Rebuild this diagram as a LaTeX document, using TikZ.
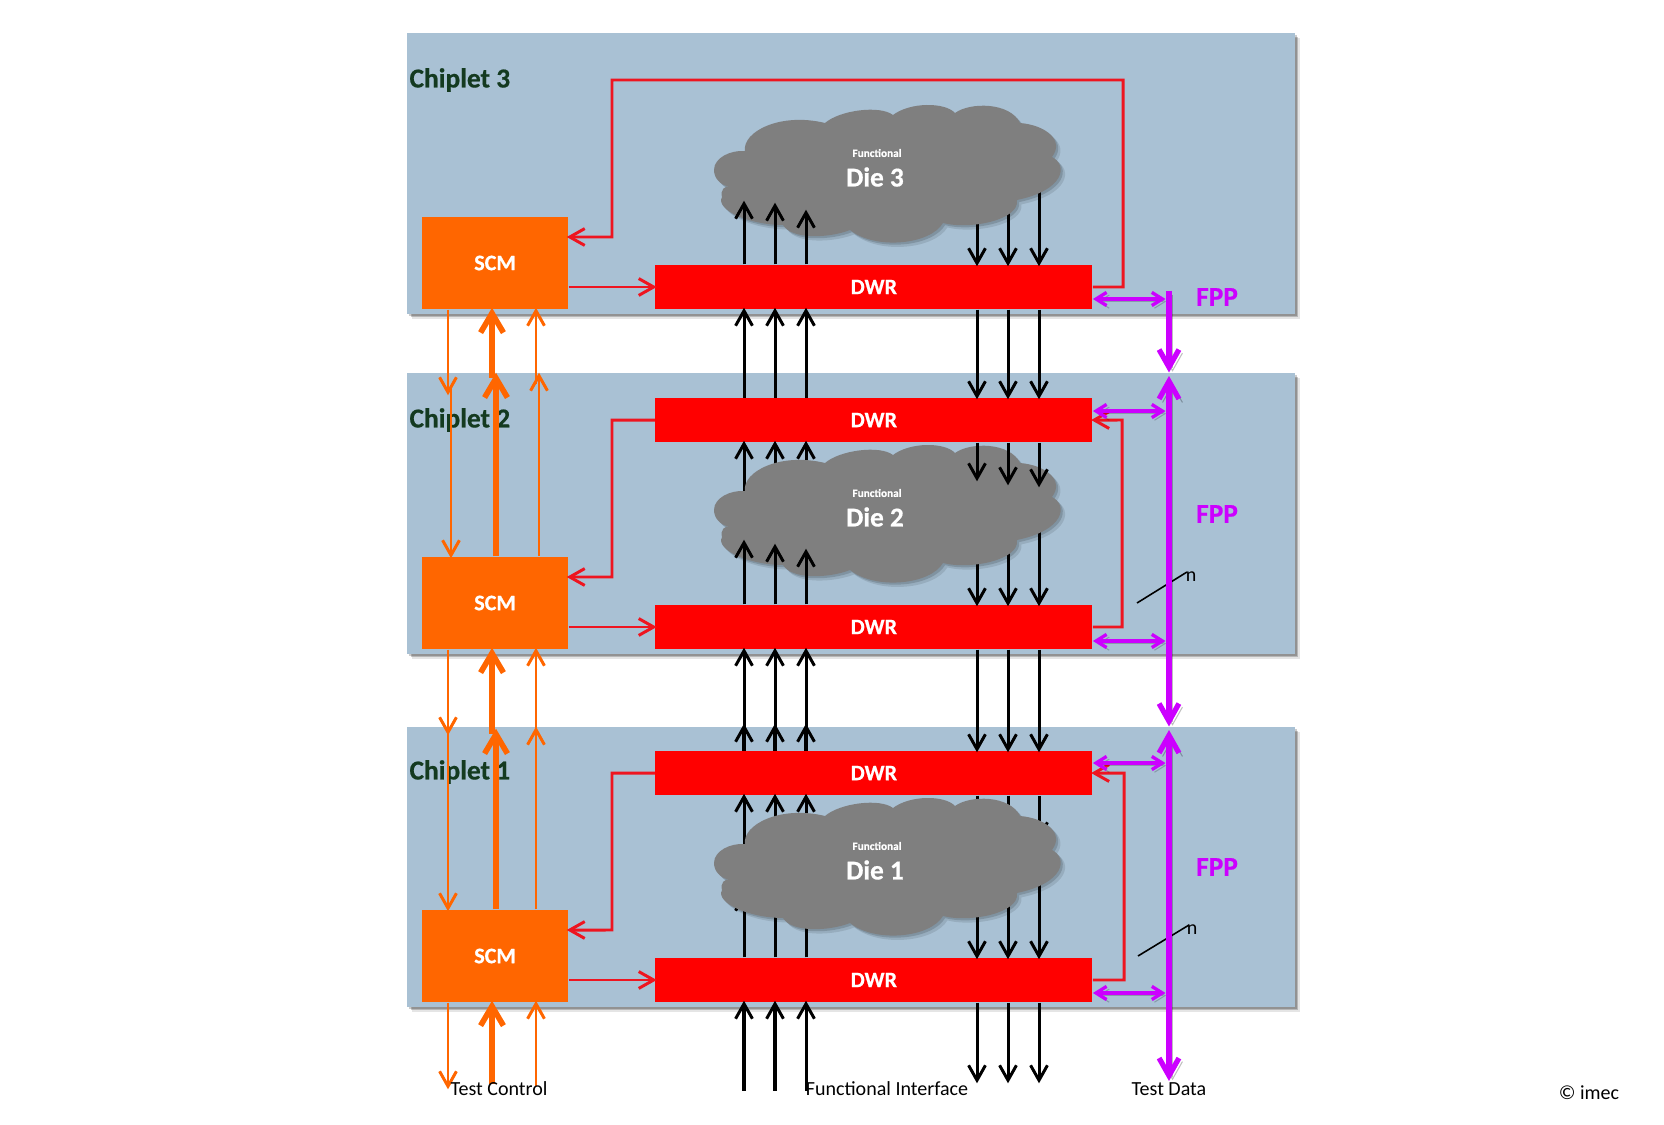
\documentclass[tikz,border=0pt]{standalone}
\usepackage{fontspec}
\setmainfont{Carlito}[BoldFeatures={FakeBold=0.6}]
\usetikzlibrary{arrows.meta, shadows}
\definecolor{panelblue}{HTML}{A9C1D4}
\definecolor{cloudgray}{HTML}{7F7F7F}
\definecolor{scmorange}{HTML}{FF6600}
\definecolor{wirered}{HTML}{EE1520}
\definecolor{fpppurple}{HTML}{CC00FF}
\definecolor{chipgreen}{HTML}{143A20}

\begin{document}
\begin{tikzpicture}[
            x = 0.02cm, % one pixel of the reference
            y = -0.02cm,
            node distance = 7.58cm, % distance between scm and dwr
            semithick, % line style,
            panel/.style = {fill = panelblue, minimum width = 17.76cm, inner sep = 0,
                drop shadow = {shadow xshift = 3pt, shadow yshift = -3pt, fill = black, opacity = .1},
                drop shadow = {shadow xshift = 2pt, shadow yshift = -2pt, fill = black, opacity = .2},
                drop shadow = {shadow xshift = 1pt, shadow yshift = -1pt, fill = black, opacity = .2}},
            scmbox/.style = {fill = scmorange, text = white, minimum width = 2.92cm, minimum height = 1.84cm,
                inner sep = 0, font = \fontsize{12.6}{14}\selectfont\bfseries},
            dwrbox/.style = {fill = red, text = white, minimum width = 8.74cm, minimum height = 0.88cm,
                inner sep = 0, font = \fontsize{12.6}{14}\selectfont\bfseries},
            chiplabel/.style = {text = chipgreen, inner sep = 0, anchor = west, font = \fontsize{15.6}{18}\selectfont\bfseries},
            fpplabel/.style = {text = fpppurple, inner sep = 0, font = \fontsize{15.6}{18}\selectfont\bfseries},
            dietitle/.style = {text = white, inner sep = 0, font = \fontsize{15.5}{18}\selectfont\bfseries},
            diesmall/.style = {text = white, inner sep = 0, node distance = 0.48cm, xshift = 0.04cm,
                font = \fontsize{6.4}{8}\selectfont\bfseries},
            plainlabel/.style = {inner sep = 0, font = \fontsize{11.4}{13}\selectfont},
            funcwire/.style = {line width = 1.7pt, > = {Straight Barb[length = 8.5pt, width = 9.6pt, sep = -1pt]}},
            funcbold/.style = {line width = 2.3pt, > = {Straight Barb[length = 8.5pt, width = 9.6pt, line width = 1.7pt, sep = -1pt]}},
            thinorange/.style = {draw = scmorange, line width = 1.7pt, > = {Straight Barb[length = 8.5pt, width = 9.6pt, sep = -1pt]}},
            thickorange/.style = {draw = scmorange, line width = 3.2pt, > = {Straight Barb[length = 11pt, width = 13pt, sep = -1pt]}},
            redwire/.style = {draw = wirered, line width = 1.7pt, > = {Straight Barb[length = 8.5pt, width = 9.6pt, sep = -1pt]}},
            tapwire/.style = {draw = fpppurple, line width = 1.9pt, > = {Straight Barb[length = 6pt, width = 7.5pt]},
                preaction = {draw = black, opacity = .2, transform canvas = {shift = {(1.5pt,-1.5pt)}}}},
            buswire/.style = {draw = fpppurple, line width = 3pt, > = {Straight Barb[length = 10pt, width = 11.3pt]},
                preaction = {draw = black, opacity = .25, transform canvas = {shift = {(2pt,-2pt)}}}},
            diecloud/.pic = {
                \path[fill = cloudgray,
                        drop shadow = {shadow xshift = 2.5pt, shadow yshift = -2.5pt, fill = black, opacity = .1},
                        drop shadow = {shadow xshift = 1.2pt, shadow yshift = -1.2pt, fill = black, opacity = .15}]
                    (34,110) .. controls (34,98) and (50,90) .. (65,91)
                    .. controls (62,72) and (100,52) .. (145,63)
                    .. controls (160,50) and (200,45) .. (213,55)
                    .. controls (230,42) and (265,42) .. (275,53)
                    .. controls (290,42) and (330,42) .. (340,63)
                    .. controls (365,65) and (385,80) .. (372,97)
                    .. controls (388,105) and (385,130) .. (337,140)
                    .. controls (340,160) and (290,170) .. (263,163)
                    .. controls (250,185) and (195,190) .. (170,170)
                    .. controls (150,178) and (112,180) .. (103,165)
                    .. controls (70,165) and (35,150) .. (42,137)
                    .. controls (40,130) and (45,125) .. (50,127)
                    .. controls (40,125) and (34,118) .. (34,110) -- cycle;
            },
        ]
        \useasboundingbox (0,0) rectangle (1664,1125);

        % chiplet panels
        \node[panel, minimum height = 5.62cm] (panel3) at (851,173.5) {};
        \node[panel, minimum height = 5.62cm] (panel2) at (851,513.5) {};
        \node[panel, minimum height = 5.60cm] (panel1) at (851,867) {};

        \node[chiplabel] (chip3) at (409,80) {Chiplet 3};
        \node[chiplabel] (chip2) at (409,420) {Chiplet 2};
        \node[chiplabel] (chip1) at (409,772) {Chiplet 1};

        \node[fpplabel] (fpp3) at (1217,297) {FPP};
        \node[fpplabel] (fpp2) at (1217,514) {FPP};
        \node[fpplabel] (fpp1) at (1217,867) {FPP};

        % scm and wrapper boxes
        \node[scmbox] (scm3) at (495,263) {SCM};
        \node[scmbox] (scm2) at (495,603) {SCM};
        \node[scmbox] (scm1) at (495,956) {SCM};

        \node[dwrbox] (dwr3) [right of=scm3, yshift=-0.48cm] {DWR};
        \node[dwrbox] (dwr2b) [right of=scm2, yshift=-0.48cm] {DWR};
        \node[dwrbox] (dwr1b) [right of=scm1, yshift=-0.48cm] {DWR};
        \node[dwrbox] (dwr2a) [above of=dwr2b, node distance=4.14cm] {DWR};
        \node[dwrbox] (dwr1a) [above of=dwr1b, node distance=4.14cm] {DWR};

        % wire columns
        \coordinate (oa) at (448,0);
        \coordinate (oe) at (451,0);
        \coordinate (ob) at (492,0);
        \coordinate (of) at (496,0);
        \coordinate (oc) at (536,0);
        \coordinate (og) at (539,0);
        \coordinate (ua) at (744,0);
        \coordinate (ub) at (775,0);
        \coordinate (uc) at (806,0);
        \coordinate (da) at (977,0);
        \coordinate (db) at (1008,0);
        \coordinate (dc) at (1039,0);
        \coordinate (bus) at (1169,0);

        % functional wires, chiplet 3
        \draw[funcwire,<-] (dwr3.north -| da) -- ++(0,-70);
        \draw[funcwire,<-] (dwr3.north -| db) -- ++(0,-70);
        \draw[funcwire,<-] (dwr3.north -| dc) -- ++(0,-80);
        \pic at (680,60) {diecloud};
        \draw[funcwire,->] (dwr3.north -| ua) -- ++(0,-62);
        \draw[funcwire,->] (dwr3.north -| ub) -- ++(0,-60);
        \draw[funcwire,->] (dwr3.north -| uc) -- ++(0,-53);

        % between chiplet 3 and 2
        \draw[funcwire,->] (dwr2a.north -| ua) -- (dwr3.south -| ua);
        \draw[funcwire,->] (dwr2a.north -| ub) -- (dwr3.south -| ub);
        \draw[funcwire,->] (dwr2a.north -| uc) -- (dwr3.south -| uc);
        \draw[funcwire,->] (dwr3.south -| da) -- (dwr2a.north -| da);
        \draw[funcwire,->] (dwr3.south -| db) -- (dwr2a.north -| db);
        \draw[funcwire,->] (dwr3.south -| dc) -- (dwr2a.north -| dc);

        % functional wires, chiplet 2
        \draw[funcwire,<-] (dwr2a.south -| ua) -- ++(0,60);
        \draw[funcwire,<-] (dwr2a.south -| ub) -- ++(0,60);
        \draw[funcwire,<-] (dwr2a.south -| uc) -- ++(0,60);
        \draw[funcwire,<-] (dwr2b.north -| da) -- ++(0,-80);
        \draw[funcwire,<-] (dwr2b.north -| db) -- ++(0,-80);
        \draw[funcwire,<-] (dwr2b.north -| dc) -- ++(0,-80);
        \pic at (680,400) {diecloud};
        \draw[funcwire,->] (dwr2b.north -| ua) -- ++(0,-63);
        \draw[funcwire,->] (dwr2b.north -| ub) -- ++(0,-59);
        \draw[funcwire,->] (dwr2b.north -| uc) -- ++(0,-54);
        \draw[funcwire,->] (dwr2a.south -| da) -- ++(0,37);
        \draw[funcwire,->] (dwr2a.south -| db) -- ++(0,41);
        \draw[funcwire,->] (dwr2a.south -| dc) -- ++(0,43);

        % between chiplet 2 and 1
        \draw[funcwire,<-] (dwr2b.south -| ua) -- ++(0,80);
        \draw[funcwire,<-] (dwr2b.south -| ub) -- ++(0,80);
        \draw[funcwire,<-] (dwr2b.south -| uc) -- ++(0,80);
        \draw[funcbold,->] (dwr1a.north -| ua) -- ++(0,-25);
        \draw[funcbold,->] (dwr1a.north -| ub) -- ++(0,-25);
        \draw[funcbold,->] (dwr1a.north -| uc) -- ++(0,-25);
        \draw[funcwire,->] (dwr2b.south -| da) -- (dwr1a.north -| da);
        \draw[funcwire,->] (dwr2b.south -| db) -- (dwr1a.north -| db);
        \draw[funcwire,->] (dwr2b.south -| dc) -- (dwr1a.north -| dc);

        % functional wires, chiplet 1
        \draw[funcwire,<-] (dwr1a.south -| ua) -- ++(0,60);
        \draw[funcwire,<-] (dwr1a.south -| ub) -- ++(0,60);
        \draw[funcwire,<-] (dwr1a.south -| uc) -- ++(0,60);
        \draw[funcwire,->] (dwr1a.south -| da) -- ++(0,37);
        \draw[funcwire,->] (dwr1a.south -| db) -- ++(0,41);
        \draw[funcwire,->] (dwr1a.south -| dc) -- ++(0,43);
        \draw[funcwire,->] (dwr1b.north -| ua) -- ++(0,-63);
        \draw[funcwire,->] (dwr1b.north -| ub) -- ++(0,-59);
        \draw[funcwire,->] (dwr1b.north -| uc) -- ++(0,-54);
        \draw[funcwire,<-] (dwr1b.north -| da) -- ++(0,-80);
        \draw[funcwire,<-] (dwr1b.north -| db) -- ++(0,-80);
        \draw[funcwire,<-] (dwr1b.north -| dc) -- ++(0,-80);
        \pic at (680,753) {diecloud};

        % below chiplet 1
        \draw[funcbold,<-] (dwr1b.south -| ua) -- ++(0,88);
        \draw[funcbold,<-] (dwr1b.south -| ub) -- ++(0,88);
        \draw[funcwire,<-] (dwr1b.south -| uc) -- ++(0,88);
        \draw[funcwire,->] (dwr1b.south -| da) -- ++(0,79);
        \draw[funcwire,->] (dwr1b.south -| db) -- ++(0,79);
        \draw[funcwire,->] (dwr1b.south -| dc) -- ++(0,79);

        % die titles
        \node[dietitle] (die3) at (875,177) {Die 3};
        \node[dietitle] (die2) at (875,517) {Die 2};
        \node[dietitle] (die1) at (875,870) {Die 1};
        \node[diesmall] (func3) [above of=die3] {Functional};
        \node[diesmall] (func2) [above of=die2] {Functional};
        \node[diesmall] (func1) [above of=die1] {Functional};

        % test control wires
        \draw[thinorange,->] (scm3.south -| oa) -- ++(0,84);
        \draw[thinorange,<-] (scm2.north -| oe) -- ++(0,-170);
        \draw[thickorange,<-] (scm3.south -| ob) -- ++(0,68);
        \draw[thickorange,->] (scm2.north -| of) -- ++(0,-182);
        \draw[thinorange,<-] (scm3.south -| oc) -- ++(0,74);
        \draw[thinorange,->] (scm2.north -| og) -- ++(0,-182);

        \draw[thinorange,->] (scm2.south -| oa) -- ++(0,84);
        \draw[thinorange,<-] (scm1.north -| oa) -- ++(0,-185);
        \draw[thickorange,<-] (scm2.south -| ob) -- ++(0,84);
        \draw[thickorange,->] (scm1.north -| of) -- ++(0,-179);
        \draw[thinorange,<-] (scm2.south -| oc) -- ++(0,84);
        \draw[thinorange,->] (scm1.north -| oc) -- ++(0,-181);

        \draw[thinorange,->] (scm1.south -| oa) -- ++(0,85);
        \draw[thickorange,<-] (scm1.south -| ob) -- ++(0,81);
        \draw[thinorange,<-] (scm1.south -| oc) -- ++(0,83);

        % red test wires
        \coordinate (redtop) at (1123,80);
        \coordinate (redleft3) at (612,237);
        \coordinate (redleft2) at (612,577);
        \coordinate (redleft1) at (612,930);
        \coordinate (redright2) at (1122,420);
        \coordinate (redright1) at (1124,773);
        \draw[redwire,->] (dwr3.west -| scm3.east) -- (dwr3.west);
        \draw[redwire,->] (dwr2b.west -| scm2.east) -- (dwr2b.west);
        \draw[redwire,->] (dwr1b.west -| scm1.east) -- (dwr1b.west);
        \draw[redwire,->] (dwr3.east) -| (redtop) -| (redleft3) -- ([yshift=0.52cm]scm3.east);
        \draw[redwire,->] (dwr2a.west) -| (redleft2) -- ([yshift=0.52cm]scm2.east);
        \draw[redwire,->] (dwr1a.west) -| (redleft1) -- ([yshift=0.52cm]scm1.east);
        \draw[redwire,->] (dwr2b.east) -| (redright2) -- (dwr2a.east);
        \draw[redwire,->] (dwr1b.east) -| (redright1) -- (dwr1a.east);

        % slash marks
        \coordinate (slash2a) at (1137,603);
        \coordinate (slash2b) at (1187,572);
        \coordinate (slash1a) at (1138,956);
        \coordinate (slash1b) at (1189,925);
        \draw[line width = 0.9pt] (slash2a) -- (slash2b);
        \draw[line width = 0.9pt] (slash1a) -- (slash1b);
        \node[plainlabel] (n2) at (1191,577) {n};
        \node[plainlabel] (n1) at (1192,930) {n};

        % bottom labels
        \node[plainlabel] (tctl) at (499,1088.5) {Test Control};
        \node[plainlabel] (fint) at (887,1088.5) {Functional Interface};
        \node[plainlabel] (tdat) at (1169,1089) {Test Data};
        \node[plainlabel] (imec) at (1589,1093) {© imec};

        % fpp bus
        \coordinate (bustop) at (1169,291);
        \coordinate (busend) at (1169,1081);
        \draw[buswire,->] (bustop) -- (panel2.north -| bus);
        \draw[buswire,<->,shorten <=2pt] (panel2.north -| bus) -- (panel1.north -| bus);
        \draw[buswire,<->,shorten <=2pt] (panel1.north -| bus) -- (busend);

        \draw[tapwire,<->,shorten >=2pt] ([yshift=-0.24cm]dwr3.east) -- ([yshift=-0.24cm]dwr3.east -| bus);
        \draw[tapwire,<->,shorten >=2pt] ([yshift=0.18cm]dwr2a.east) -- ([yshift=0.18cm]dwr2a.east -| bus);
        \draw[tapwire,<->,shorten >=2pt] ([yshift=-0.28cm]dwr2b.east) -- ([yshift=-0.28cm]dwr2b.east -| bus);
        \draw[tapwire,<->,shorten >=2pt] ([yshift=0.2cm]dwr1a.east) -- ([yshift=0.2cm]dwr1a.east -| bus);
        \draw[tapwire,<->,shorten >=2pt] ([yshift=-0.26cm]dwr1b.east) -- ([yshift=-0.26cm]dwr1b.east -| bus);
    \end{tikzpicture}
\end{document}
